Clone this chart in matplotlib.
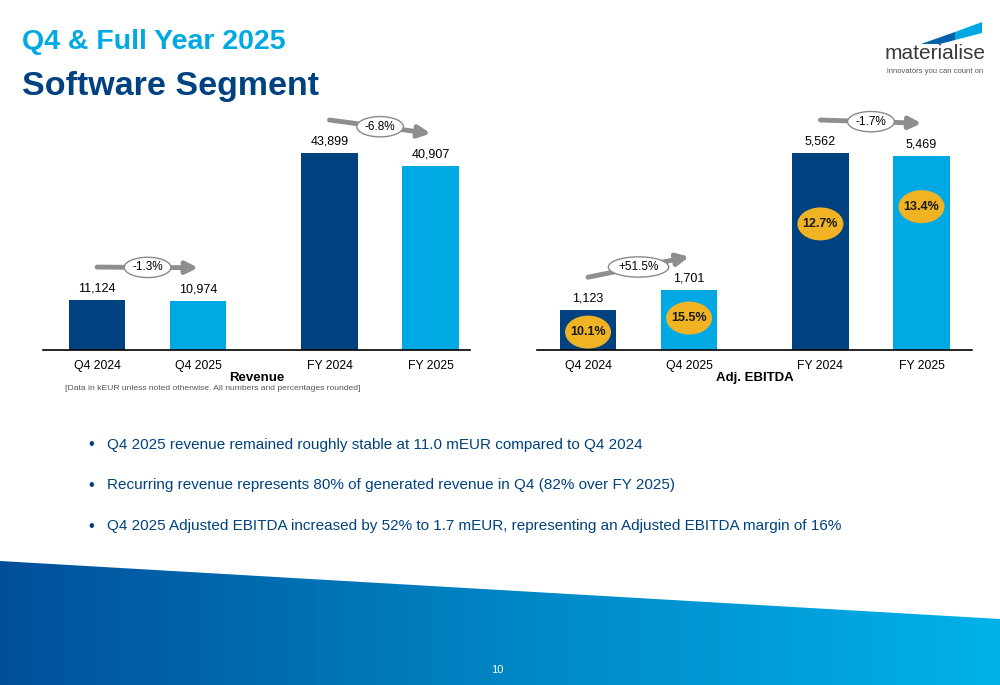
import numpy as np
import matplotlib
matplotlib.use("Agg")
import matplotlib.pyplot as plt
from matplotlib.patches import Polygon, Ellipse
from matplotlib.transforms import ScaledTranslation
from matplotlib.colors import LinearSegmentedColormap

plt.rcParams['font.family'] = ['Liberation Sans Narrow', 'Liberation Sans', 'DejaVu Sans']

# data
periods = ['Q4 2024', 'Q4 2025', 'FY 2024', 'FY 2025']
revenue = [11124, 10974, 43899, 40907]
ebitda = [1123, 1701, 5562, 5469]
margins = ['10.1%', '15.5%', '12.7%', '13.4%']
margin_pos = [0.45, 0.53, 0.64, 0.74]  # height of margin badge as fraction of bar
revenue_growth = ['-1.3%', '-6.8%']
ebitda_growth = ['+51.5%', '-1.7%']
bullets = [
    'Q4 2025 revenue remained roughly stable at 11.0 mEUR compared to Q4 2024',
    'Recurring revenue represents 80% of generated revenue in Q4 (82% over FY 2025)',
    'Q4 2025 Adjusted EBITDA increased by 52% to 1.7 mEUR, representing an Adjusted EBITDA margin of 16%',
]

DARK = '#00427F'
LIGHT = '#00A9E3'
GOLD = '#F0B323'
GREY = '#8E8E8E'
colors = [DARK, LIGHT, DARK, LIGHT]
xpos = [0, 1, 2.3, 3.3]

W, H = 1000, 685
fig = plt.figure(figsize=(W / 100, H / 100), dpi=100)

# background layer in pixel coordinates
bg = fig.add_axes([0, 0, 1, 1], zorder=0)
bg.set_xlim(0, W)
bg.set_ylim(H, 0)
bg.axis('off')
grad = np.linspace(0, 1, 256).reshape(1, -1)
cmap = LinearSegmentedColormap.from_list('band', ['#004F9A', '#0085C4', '#00B2EA'])
im = bg.imshow(grad, extent=(0, W, H, 555), cmap=cmap, aspect='auto')
band = Polygon([(0, 561), (W, 619), (W, H), (0, H)], closed=True, transform=bg.transData,
               fc='none', ec='none')
bg.add_patch(band)
im.set_clip_path(band)
bg.text(497, 670, '10', color='white', fontsize=8, ha='center', va='center')

# titles
fig.text(0.022, 1 - 42 / H, 'Q4 & Full Year 2025', color=LIGHT, fontsize=20.5,
         fontweight='bold', va='center')
fig.text(0.022, 1 - 86 / H, 'Software Segment', color=DARK, fontsize=24.5,
         fontweight='bold', va='center')

# logo
bg.add_patch(Polygon([(921, 44), (955, 32), (955, 40), (940, 44)], closed=True, fc='#0060A8', ec='none'))
bg.add_patch(Polygon([(955, 32), (982, 22), (982, 33), (955, 40)], closed=True, fc='#00A9E3', ec='none'))
bg.text(935, 53, 'materialise', color='#3A3A3A', fontsize=15, ha='center', va='center',
        family=['Liberation Sans', 'DejaVu Sans'])
bg.text(935, 71, 'innovators you can count on', color='#555555', fontsize=5.5, ha='center', va='center',
        family=['Liberation Sans', 'DejaVu Sans'])


def bar_panel(rect, values, growth, title, xlim, top):
    ax = fig.add_axes(rect, zorder=2)
    ax.set_facecolor('none')
    ax.bar(xpos, values, width=0.56, color=colors)
    ax.set_xlim(*xlim)
    ax.set_ylim(0, top)
    for s in ['left', 'right', 'top']:
        ax.spines[s].set_visible(False)
    ax.spines['bottom'].set_linewidth(1.2)
    ax.set_yticks([])
    ax.set_xticks(xpos)
    ax.set_xticklabels(periods, fontsize=8.8)
    ax.tick_params(axis='x', length=0, pad=7)
    ax.set_xlabel(title, fontsize=9.5, fontweight='bold', labelpad=0)
    for x, v in zip(xpos, values):
        ax.annotate(f'{v:,}', (x, v), xytext=(0, 4), textcoords='offset points',
                    ha='center', va='bottom', fontsize=9)
    off = top * 33 / 240
    for i, g in enumerate(growth):
        a, b = 2 * i, 2 * i + 1
        y0, y1 = values[a] + off, values[b] + off
        ax.annotate('', xy=(xpos[b], y1), xytext=(xpos[a], y0),
                    arrowprops=dict(arrowstyle='-|>,head_length=0.7,head_width=0.35', color=GREY,
                                    lw=3.5, shrinkA=0, shrinkB=0))
        ax.text((xpos[a] + xpos[b]) / 2, (y0 + y1) / 2, g, ha='center', va='center', fontsize=8.5,
                bbox=dict(boxstyle='ellipse,pad=0.1', fc='white', ec='#8A8A8A', lw=1))
    return ax


ax1 = bar_panel([43 / W, 1 - 350 / H, 427 / W, 240 / H], revenue, revenue_growth, 'Revenue',
                (-0.535, 3.69), 43899 * 240 / 197)
ax2 = bar_panel([537 / W, 1 - 350 / H, 435 / W, 240 / H], ebitda, ebitda_growth, 'Adj. EBITDA',
                (-0.505, 3.80), 5562 * 240 / 197)

# margin badges: ellipses sized in inches, centred on data points
for x, v, m, f in zip(xpos, ebitda, margins, margin_pos):
    tr = fig.dpi_scale_trans + ScaledTranslation(x, v * f, ax2.transData)
    ax2.add_patch(Ellipse((0, 0), 0.46, 0.33, transform=tr, fc=GOLD, ec='none', zorder=3))
    ax2.text(x, v * f, m, ha='center', va='center', fontsize=9, fontweight='bold',
             color='#1A1A1A', zorder=4)

fig.text(65 / W, 1 - 389 / H, '[Data in kEUR unless noted otherwise. All numbers and percentages rounded]',
         fontsize=6.1, color='#555555', va='center')

# bullet points
for i, b in enumerate(bullets):
    y = 1 - (445 + i * 40.5) / H
    fig.text(88 / W, y, '\u2022', color=DARK, fontsize=12, va='center')
    fig.text(107 / W, y, b, color=DARK, fontsize=11, va='center')

fig.savefig('out.png', dpi=100)
